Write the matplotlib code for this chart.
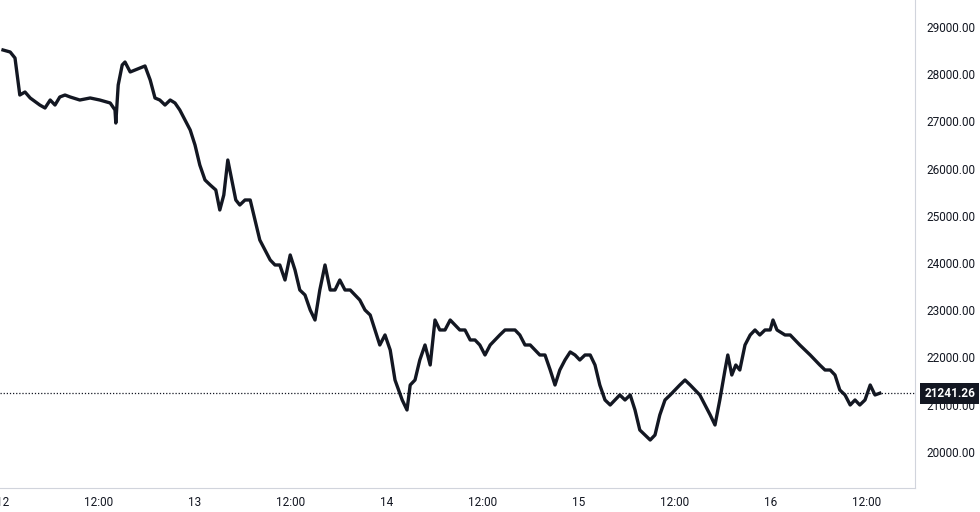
import matplotlib
matplotlib.use("Agg")
import matplotlib.pyplot as plt
plt.rcParams['font.family'] = ['Roboto', 'DejaVu Sans']

# hours since day 12 00:00
hours = [0,0.9,1.5,2.1,2.75,3.4,4.6,5.25,5.9,6.5,7.1,7.75,8.4,9.6,10.9,12.1,13.4,14,14.1,14.4,14.9,15.25,15.9,16.5,17.1,17.75,18.4,19,19.6,20.25,20.9,21.5,22.1,22.75,23.4,24,24.6,25.25,25.9,26.6,27.1,27.6,28.1,28.6,29.1,29.6,30.25,30.9,31.5,32.1,32.75,33.4,34,34.6,35.25,35.9,36.5,37.1,37.75,38.4,39,39.6,40.25,40.9,41.5,42.1,42.75,43.4,44,44.6,45.25,45.9,46.5,47.1,47.75,48.4,49,49.9,50.5,50.9,51.5,52.1,52.75,53.4,54,54.6,55.25,55.9,56.5,57.1,57.75,58.4,59,59.6,60.25,60.9,61.5,62.1,62.75,63.4,64,64.6,65.25,65.9,66.5,67.1,67.75,68.4,69,69.6,70.25,70.9,71.5,72.1,72.75,73.4,74,74.6,75.25,75.9,76.5,77.1,77.75,78.4,79,79.6,80.25,80.9,81.5,82.1,82.75,83.4,84,84.6,85.25,85.9,86.5,87.1,87.75,88.4,89,89.6,90.25,90.6,91.1,91.6,92.1,92.75,93.4,94,94.6,95.25,95.9,96.25,96.75,97.75,98.4,99,99.6,100.25,100.9,101.5,102.1,102.75,103.4,104,104.6,105.25,105.9,106.5,107.1,107.75,108.4,109,109.6]
prices = [28513,28470,28343,27559,27623,27496,27347,27284,27453,27347,27517,27559,27517,27453,27496,27453,27390,27242,26966,27771,28195,28258,28047,28089,28131,28174,27877,27496,27453,27347,27453,27390,27242,27030,26818,26500,26076,25759,25653,25547,25123,25441,26182,25759,25335,25229,25335,25335,24911,24487,24276,24064,23958,23958,23640,24170,23852,23428,23322,23004,22792,23428,23958,23428,23428,23640,23428,23428,23322,23216,23004,22898,22581,22263,22475,22157,21521,21098,20886,21415,21521,21945,22263,21839,22792,22581,22581,22792,22687,22581,22581,22369,22369,22263,22051,22263,22369,22475,22581,22581,22581,22475,22263,22263,22157,22051,22051,21733,21415,21733,21945,22115,22051,21945,22051,22051,21839,21415,21098,20992,21098,21204,21098,21204,20886,20462,20356,20250,20356,20780,21098,21204,21310,21415,21521,21415,21310,21204,20992,20780,20568,21098,21733,22051,21627,21839,21733,22263,22475,22581,22475,22581,22581,22792,22581,22475,22475,22369,22263,22157,22051,21945,21839,21733,21733,21627,21310,21204,20992,21098,20992,21098,21415,21204,21241]
ytick_vals = [20000,21000,22000,23000,24000,25000,26000,27000,28000,29000]
xtick_pos = [0,12,24,36,48,60,72,84,96,108]
xtick_labels = ["12","12:00","13","12:00","14","12:00","15","12:00","16","12:00"]
last_price = 21241.26

fig = plt.figure(figsize=(9.8,5.12), dpi=100)
ax = fig.add_axes([0, 24/512, 915/980, 488/512])
ax.plot(hours, prices, color="#131722", lw=2.4, solid_joinstyle="round")
ax.set_xlim(-0.375, 114)
ax.set_ylim(19233, 29572)
ax.yaxis.tick_right()
ax.set_yticks(ytick_vals)
ax.set_yticklabels([f"{v:.2f}" for v in ytick_vals])
ax.set_xticks(xtick_pos)
ax.set_xticklabels(xtick_labels)
ax.tick_params(axis="y", colors="#131722", labelsize=8.5, length=0, pad=8)
ax.tick_params(axis="x", colors="#131722", labelsize=8.5, length=0, pad=6)
for s in ["top","left"]:
    ax.spines[s].set_visible(False)
for s in ["right","bottom"]:
    ax.spines[s].set_color("#d1d4dc")
ax.axhline(last_price, color="#131722", lw=0.9, ls=(0,(1,1.5)))
ax.text(1.01, last_price, f"{last_price:.2f}", transform=ax.get_yaxis_transform(),
        ha="left", va="center", color="white", fontsize=8.5, fontweight="bold",
        bbox=dict(boxstyle="square,pad=0.35", fc="#131722", ec="none"))
fig.savefig("out.png", dpi=100)
